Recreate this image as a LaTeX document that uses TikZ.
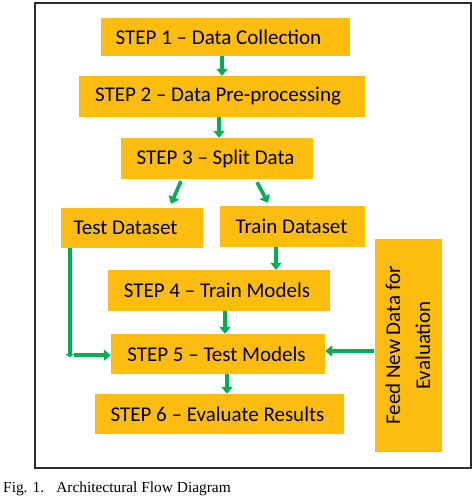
\documentclass[tikz,border=0pt]{standalone}
\usepackage{fontspec}
\setmainfont{Carlito}
\newfontfamily\capfont{Liberation Serif}
\usetikzlibrary{arrows.meta}
\definecolor{boxfill}{RGB}{252,188,16}
\definecolor{arrgreen}{RGB}{0,176,80}
\definecolor{framegray}{RGB}{45,45,45}
\begin{document}
\begin{tikzpicture}[x=1pt,y=-1pt,
  box/.style={fill=boxfill,draw=none,inner sep=0pt,font=\fontsize{21}{30}\selectfont,text=black},
  arr/.style={draw=arrgreen,line width=3.6pt,-{Triangle[width=11pt,length=7pt]}},
  smallarr/.style={draw=arrgreen,line width=3.6pt,-{Triangle[width=8pt,length=3pt]}}]
\useasboundingbox (0,0) rectangle (474,498);
\fill[white] (0,0) rectangle (474,498);
\draw[framegray,line width=2pt] (35,3) rectangle (471,468);
\node[box,minimum width=249pt,minimum height=38pt] (s1) at (225.5,37) {STEP 1 -- Data Collection\hspace*{14pt}};
\node[box,minimum width=286pt,minimum height=41pt] (s2) at (222,96.5) {STEP 2 -- Data Pre-processing\hspace*{8pt}};
\node[box,minimum width=192pt,minimum height=41pt] (s3) at (217,158.5) {STEP 3 -- Split Data\hspace*{3pt}};
\node[box,minimum width=142pt,minimum height=40pt] (test) at (132,228) {Test Dataset\hspace*{13pt}};
\node[box,minimum width=145pt,minimum height=41pt] (train) at (292.5,226.5) {Train Dataset\hspace*{2pt}};
\node[box,minimum width=222pt,minimum height=41pt] (s4) at (219,290.5) {STEP 4 -- Train Models\hspace*{4pt}};
\node[box,minimum width=214pt,minimum height=40pt] (s5) at (218,354) {STEP 5 -- Test Models\hspace*{3pt}};
\node[box,minimum width=249pt,minimum height=40pt] (s6) at (219.5,414) {STEP 6 -- Evaluate Results\hspace*{4pt}};
\node[box,minimum width=213pt,minimum height=67pt,rotate=90,align=center] (feed) at (408,345.5) {Feed New Data for\\Evaluation};
\node[anchor=base west,inner sep=0pt,font=\capfont\fontsize{15.4}{18}\selectfont] (cap) at (3,492) {Fig. 1.\hspace{12pt}Architectural Flow Diagram};
\coordinate (corner) at ([xshift=9pt,yshift=-109pt]test.south west);
\draw[arr] ([xshift=-3.5pt]s1.south) -- ([xshift=-3.5pt]s1.south |- s2.north);
\draw[arr] ([xshift=-3pt]s2.south) -- ([xshift=-3pt]s2.south |- s3.north);
\draw[arr] ([xshift=-36pt,yshift=-2pt]s3.south) -- ([xshift=39pt,yshift=4pt]test.north);
\draw[arr] ([xshift=40pt,yshift=-3pt]s3.south) -- ([xshift=-24.5pt,yshift=3pt]train.north);
\draw[arr] ([xshift=-16.5pt]train.south) -- ([xshift=-16.5pt]train.south |- s4.north);
\draw[arr] ([xshift=6pt]s4.south) -- ([xshift=6pt]s4.south |- s5.north);
\draw[arr] ([xshift=9pt]s5.south) -- ([xshift=9pt]s5.south |- s6.north);
\draw[smallarr] ([xshift=9pt]test.south west) -- (corner);
\draw[arr] ([xshift=4pt,yshift=2pt]corner) -- ([yshift=2pt]corner -| s5.west);
\draw[arr] ([yshift=3pt]feed.north |- s5.east) -- ([yshift=3pt]s5.east);
\end{tikzpicture}
\end{document}
